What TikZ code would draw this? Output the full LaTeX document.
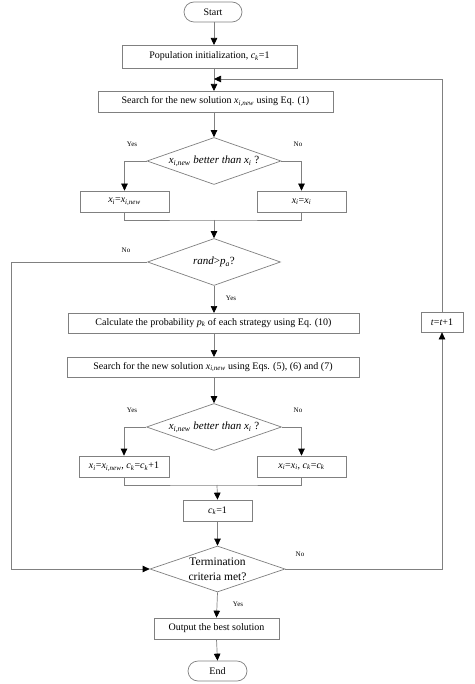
\documentclass[tikz,border=0pt]{standalone}
\usepackage{fontspec}
\setmainfont{Liberation Serif}
\usetikzlibrary{shapes.geometric,arrows.meta}
\definecolor{linegray}{RGB}{128,128,128}
\begin{document}
\begin{tikzpicture}[x=1pt,y=-1pt,
  box/.style={draw=linegray, line width=0.7pt, fill=white, inner sep=0pt, font=\fontsize{10}{12}\selectfont},
  term/.style={box, rounded corners=10pt},
  dec/.style={draw=linegray, line width=0.7pt, diamond, aspect=2.85, inner sep=0pt, font=\fontsize{11}{12}\selectfont, align=center},
  lab/.style={font=\fontsize{7}{8}\selectfont, inner sep=0pt},
  conn/.style={draw=linegray, line width=0.7pt},
  arr/.style={conn, -{Triangle[width=6.5pt,length=7pt,color=black,fill=black]}},
]
\useasboundingbox (0,0) rectangle (474,684);
\fill[white] (0,0) rectangle (474,684);

\node[term, minimum width=58pt, minimum height=20pt] (start) at (213,12) {Start};
\node[box, minimum width=175pt, minimum height=23pt] (pop) at (209.5,56.5) {Population initialization, \textit{c}\textsubscript{\textit{k}}=1};
\node[box, minimum width=235pt, minimum height=21pt] (s1) at (215.5,101.5) {Search for the new solution \textit{x}\textsubscript{\textit{i,new}} using Eq. (1)};
\node[dec, minimum width=134pt, minimum height=47pt] (d1) at (214,161) {\textit{x}\textsubscript{\textit{i,new}} \textit{better than x}\textsubscript{\textit{i}} ?};
\node[box, minimum width=89pt, minimum height=21pt] (y1) at (124.5,201.5) {\textit{x}\textsubscript{\textit{i}}=\textit{x}\textsubscript{\textit{i,new}}};
\node[box, minimum width=89pt, minimum height=21pt] (n1) at (301.5,201.5) {\textit{x}\textsubscript{\textit{i}}=\textit{x}\textsubscript{\textit{i}}};
\node[dec, minimum width=133pt, minimum height=47pt] (d2) at (214,262) {\textit{rand}>\textit{p}\textsubscript{\textit{a}}?};
\node[box, minimum width=291pt, minimum height=20pt] (calc) at (213.5,323) {Calculate the probability \textit{p}\textsubscript{\textit{k}} of each strategy using Eq. (10)};
\node[box, minimum width=42pt, minimum height=20pt] (t) at (442,322) {\textit{t}=\textit{t}+1};
\node[box, minimum width=292pt, minimum height=20pt] (s2) at (213,367) {Search for the new solution \textit{x}\textsubscript{\textit{i,new}} using Eqs. (5), (6) and (7)};
\node[dec, minimum width=135pt, minimum height=47pt] (d3) at (214,427) {\textit{x}\textsubscript{\textit{i,new}} \textit{better than x}\textsubscript{\textit{i}} ?};
\node[box, minimum width=90pt, minimum height=21pt] (y2) at (124,466.5) {\textit{x}\textsubscript{\textit{i}}=\textit{x}\textsubscript{\textit{i,new}}, \textit{c}\textsubscript{\textit{k}}=\textit{c}\textsubscript{\textit{k}}+1};
\node[box, minimum width=89pt, minimum height=21pt] (n2) at (301.5,466.5) {\textit{x}\textsubscript{\textit{i}}=\textit{x}\textsubscript{\textit{i}}, \textit{c}\textsubscript{\textit{k}}=\textit{c}\textsubscript{\textit{k}}};
\node[box, minimum width=69pt, minimum height=21pt] (ck) at (217.5,510.5) {\textit{c}\textsubscript{\textit{k}}=1};
\node[dec, minimum width=135pt, minimum height=46pt, font=\fontsize{11.5}{15}\selectfont] (d4) at (217.5,569) {Termination\\criteria met?};
\node[box, minimum width=125pt, minimum height=21pt] (out) at (216.5,628.5) {Output the best solution};
\node[term, minimum width=59pt, minimum height=20pt] (end) at (217.5,671) {End};

% labels
\node[lab] (ly1) at (132,144) {Yes};
\node[lab] (ln1) at (298,144) {No};
\node[lab] (ln2) at (126,250) {No};
\node[lab] (ly2) at (231,298) {Yes};
\node[lab] (ly3) at (132,410) {Yes};
\node[lab] (ln3) at (298,410) {No};
\node[lab] (ln4) at (300,554) {No};
\node[lab] (ly4) at (238,604) {Yes};

\coordinate (m1) at (214,220);
\coordinate (m2) at (215,485);
\coordinate (loopR) at (442,79);
\coordinate (loopL) at (214,79);
\coordinate (noL) at (11,262);

% main flow
\draw[arr] (214,22) -- (214,45);
\draw[arr] (214,68) -- (214,91);
\draw[arr] (214,112) -- (d1.north);
\draw[arr] (d1.west) -| (y1.north);
\draw[arr] (d1.east) -| (n1.north);
\draw[conn] (y1.south) |- (m1) -| (n1.south);
\draw[arr] (m1) -- (d2.north);
\draw[arr] (d2.south) -- (214,313);
\draw[arr] (214,333) -- (214,357);
\draw[arr] (214,377) -- (d3.north);
\draw[arr] (d3.west) -| (y2.north);
\draw[arr] (d3.east) -| (n2.north);
\draw[conn] (y2.south) |- (m2) -| (n2.south);
\draw[arr] (217,485) -- (ck.north);
\draw[arr] (ck.south) -- (d4.north);
\draw[arr] (d4.south) -- (out.north);
\draw[arr] (out.south) -- (end.north);
% no branch of d2
\draw[arr] (d2.west) -- (noL) |- (d4.west);
% no branch of d4 to t
\draw[arr] (d4.east) -| (t.south);
% loop back
\draw[arr] (t.north) -- (loopR) -- (loopL);
\end{tikzpicture}
\end{document}
